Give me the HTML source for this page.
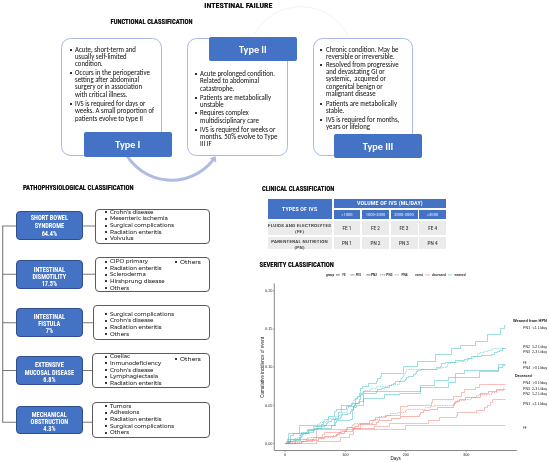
<!DOCTYPE html>
<html><head><meta charset="utf-8"><title>Intestinal failure</title><style>
*{margin:0;padding:0;box-sizing:border-box}
html,body{width:550px;height:462px;overflow:hidden;background:#fff}
body{position:relative;font-family:"Liberation Sans",sans-serif}
.abs{position:absolute}
.hd{position:absolute;font-family:"Roboto Condensed","Liberation Sans Narrow","Liberation Sans",sans-serif;font-weight:700;color:#111;white-space:nowrap;line-height:1.2;text-shadow:0 0.4px 0.4px rgba(0,0,0,0.35),0 -0.4px 0.4px rgba(0,0,0,0.25)}
.obox{position:absolute;border:1.2px solid #a9bae6;border-radius:9.5px;background:#fff}
.ft{position:absolute;font-family:Carlito,"Liberation Sans",sans-serif;font-size:7.5px;line-height:7.3px;color:#1a1a1a;white-space:nowrap;transform:scaleX(0.907);transform-origin:0 0;text-shadow:0 0.3px 0.3px rgba(0,0,0,0.15)}
.bul{position:absolute;width:2px;height:2px;background:#333}
.tbox{position:absolute;background:#4472c4;border-radius:2px;color:#fff;text-align:center;font-family:Carlito,"Liberation Sans",sans-serif;font-weight:700;font-size:10.2px}
.pbox{position:absolute;background:#4472c4;border:1px solid #2f4f8c;border-radius:4px}
.plab{position:absolute;text-align:center;color:#fff;font-family:"Roboto Condensed","Liberation Sans Narrow","Liberation Sans",sans-serif;font-weight:700;font-size:6.3px;line-height:7.0px;white-space:nowrap}
.wbox{position:absolute;border:1px solid #5a5a5a;border-radius:4px;background:#fff}
.pt{position:absolute;font-family:Montserrat,"Liberation Sans",sans-serif;font-weight:500;text-shadow:0 0.3px 0.3px rgba(0,0,0,0.12);font-size:5.55px;line-height:6.6px;color:#262626;white-space:nowrap}
.pb{position:absolute;width:2px;height:2px;background:#3a3a3a}
.tc{position:absolute;text-align:center;white-space:nowrap;font-family:Roboto,"Liberation Sans",sans-serif}
.hb{background:#4472c4;color:#fff;font-weight:700}
.hs{background:#4472c4;color:rgba(255,255,255,0.75);font-size:4px;font-weight:500}
.gl{background:#ebebeb;color:#333;font-size:4.4px;letter-spacing:0.3px;line-height:6.0px;font-weight:500;text-shadow:0 0.4px 0.3px rgba(0,0,0,0.2)}
.gv{background:#ebebeb;color:#3a3a3a;font-size:4.6px;font-weight:500;padding-top:1px}
.ax{font-family:Arimo,"Liberation Sans",sans-serif;font-size:3.8px;fill:#2a2a2a}
.axl{font-family:Arimo,"Liberation Sans",sans-serif;font-size:4.55px;fill:#1a1a1a}
.lg{font-family:Arimo,"Liberation Sans",sans-serif;font-size:3.5px;font-weight:700;fill:#222}
.lgb{font-family:Arimo,"Liberation Sans",sans-serif;font-size:3.5px;font-weight:700;fill:#111}
.rl{font-family:Arimo,"Liberation Sans",sans-serif;font-size:3.9px;fill:#222}
.rlb{font-family:Arimo,"Liberation Sans",sans-serif;font-size:3.9px;font-weight:700;fill:#111}
</style></head>
<body>
<svg class="abs" style="left:0;top:0" width="550" height="200" viewBox="0 0 550 200">
<path d="M254.2 34.5 A 53 53 0 0 1 348 35.5" fill="none" stroke="#f3f3f3" stroke-width="1"/>
</svg><div class="obox" style="left:61.2px;top:38.1px;width:101.0px;height:117.7px"></div><div class="obox" style="left:187.2px;top:37.9px;width:100.7px;height:117.7px"></div><div class="obox" style="left:313.0px;top:38.4px;width:99.6px;height:117.6px"></div><div class="bul" style="left:70px;top:49px"></div><div class="ft" style="left:74.60px;top:45.60px">Acute, short-term and<br>usually self-limited<br>condition.</div><div class="bul" style="left:70px;top:72px"></div><div class="ft" style="left:74.60px;top:68.80px">Occurs in the perioperative<br>setting after abdominal<br>surgery or in association<br>with critical illness.</div><div class="bul" style="left:70px;top:103px"></div><div class="ft" style="left:74.60px;top:100.00px">IVS is required for days or<br>weeks. A small proportion of<br>patients evolve to type II</div><div class="bul" style="left:195px;top:73px"></div><div class="ft" style="left:200.30px;top:70.00px">Acute prolonged condition.<br>Related to abdominal<br>catastrophe.</div><div class="bul" style="left:195px;top:97px"></div><div class="ft" style="left:200.30px;top:93.60px">Patients are metabolically<br>unstable</div><div class="bul" style="left:195px;top:112px"></div><div class="ft" style="left:200.30px;top:109.30px">Requires complex<br>multidisciplinary care</div><div class="bul" style="left:195px;top:129px"></div><div class="ft" style="left:200.30px;top:125.60px">IVS is required for weeks or<br>months. 50% evolve to Type<br>III IF</div><div class="bul" style="left:320px;top:49px"></div><div class="ft" style="left:325.70px;top:46.10px">Chronic condition. May be<br>reversible or irreversible.</div><div class="bul" style="left:320px;top:64px"></div><div class="ft" style="left:325.70px;top:60.70px">Resolved from progressive<br>and devastating GI or<br>systemic,&nbsp; acquired or<br>congenital benign or<br>malignant disease</div><div class="bul" style="left:320px;top:103px"></div><div class="ft" style="left:325.70px;top:100.00px">Patients are metabolically<br>stable.</div><div class="bul" style="left:320px;top:119px"></div><div class="ft" style="left:325.70px;top:115.90px">IVS is required for months,<br>years or lifelong</div><svg class="abs" style="left:0;top:0" width="550" height="200" viewBox="0 0 550 200">
<path d="M125.77 153.80 A 52.8 52.8 0 0 0 212.82 160.27" fill="none" stroke="#aebbe3" stroke-width="2.9"/>
<path d="M215.6 155.9 L209.5 158.5 L216.3 162.4 Z" fill="#aebbe3"/>
</svg><div class="tbox" style="left:84px;top:132px;width:87.5px;height:24.8px;line-height:26.6px">Type I</div><div class="tbox" style="left:209px;top:37.2px;width:87.7px;height:24.0px;line-height:25.8px">Type II</div><div class="tbox" style="left:334.1px;top:133.9px;width:87.9px;height:24.3px;line-height:26.1px">Type III</div><div class="hd" style="left:204.3px;top:1.4px;font-size:8px">INTESTINAL FAILURE</div><div class="hd" style="left:110.5px;top:18.8px;font-size:6.6px">FUNCTIONAL CLASSIFICATION</div><div class="hd" style="left:22.9px;top:183.7px;font-size:6.7px">PATHOPHYSIOLOGICAL CLASSIFICATION</div><div class="hd" style="left:261.9px;top:186.4px;font-size:6.6px">CLINICAL CLASSIFICATION</div><div class="hd" style="left:259.6px;top:260.5px;font-size:6.7px">SEVERITY CLASSIFICATION</div><svg class="abs" style="left:0;top:0" width="220" height="462" viewBox="0 0 220 462"><path d="M2.7 226.0 V422.3" stroke="#7a7a7a" stroke-width="1.1" fill="none"/><path d="M2.2 226.0 H16.5 M82.5 226.0 H95.2" stroke="#7a7a7a" stroke-width="1.1" fill="none"/><path d="M2.2 274.2 H16.5 M82.5 274.2 H95.2" stroke="#7a7a7a" stroke-width="1.1" fill="none"/><path d="M2.2 322.7 H16.5 M82.5 322.7 H93.4" stroke="#7a7a7a" stroke-width="1.1" fill="none"/><path d="M2.2 370.5 H16.5 M82.5 370.5 H92.7" stroke="#7a7a7a" stroke-width="1.1" fill="none"/><path d="M2.2 422.3 H16.5 M82.5 422.3 H92.7" stroke="#7a7a7a" stroke-width="1.1" fill="none"/></svg><div class="pbox" style="left:16px;top:211.2px;width:66.7px;height:28.4px"></div><div class="plab" style="left:16px;top:215.05px;width:66.7px;letter-spacing:0px">SHORT BOWEL</div><div class="plab" style="left:16px;top:223.00px;width:66.7px;letter-spacing:0px">SYNDROME</div><div class="plab" style="left:16px;top:230.65px;width:66.7px;letter-spacing:0px">64.4%</div><div class="wbox" style="left:94.7px;top:208.6px;width:115.1px;height:35.1px"></div><div class="pb" style="left:105px;top:211px"></div><div class="pb" style="left:105px;top:218px"></div><div class="pb" style="left:105px;top:225px"></div><div class="pb" style="left:105px;top:231px"></div><div class="pb" style="left:105px;top:238px"></div><div class="pt" style="left:109.9px;top:208.90px">Crohn's disease<br>Mesenteric ischemia<br>Surgical complications<br>Radiation enteritis<br>Volvulus</div><div class="pbox" style="left:16px;top:260.0px;width:66.7px;height:28.5px"></div><div class="plab" style="left:16px;top:266.50px;width:66.7px;letter-spacing:0px">INTESTINAL</div><div class="plab" style="left:16px;top:273.80px;width:66.7px;letter-spacing:0px">DISMOTILITY</div><div class="plab" style="left:16px;top:280.80px;width:66.7px;letter-spacing:0px">17.5%</div><div class="wbox" style="left:94.7px;top:256.9px;width:115.1px;height:35.2px"></div><div class="pb" style="left:105px;top:261px"></div><div class="pb" style="left:105px;top:267px"></div><div class="pb" style="left:105px;top:274px"></div><div class="pb" style="left:105px;top:280px"></div><div class="pb" style="left:105px;top:287px"></div><div class="pt" style="left:109.9px;top:258.20px">CIPO primary<br>Radiation enteritis<br>Scleroderma<br>Hirshprung disease<br>Others</div><div class="pb" style="left:175px;top:261px"></div><div class="pt" style="left:180.0px;top:258.60px;font-size:6px">Others</div><div class="pbox" style="left:16px;top:308.2px;width:66.7px;height:28.7px"></div><div class="plab" style="left:16px;top:314.00px;width:66.7px;letter-spacing:0px">INTESTINAL</div><div class="plab" style="left:16px;top:321.00px;width:66.7px;letter-spacing:0px">FISTULA</div><div class="plab" style="left:16px;top:328.00px;width:66.7px;letter-spacing:0px">7%</div><div class="wbox" style="left:92.9px;top:304.9px;width:116.9px;height:34.9px"></div><div class="pb" style="left:105px;top:313px"></div><div class="pb" style="left:105px;top:320px"></div><div class="pb" style="left:105px;top:327px"></div><div class="pb" style="left:105px;top:333px"></div><div class="pt" style="left:109.9px;top:310.90px">Surgical complications<br>Crohn's disease<br>Radiation enteritis<br>Others</div><div class="pbox" style="left:16px;top:356.3px;width:66.7px;height:28.3px"></div><div class="plab" style="left:16px;top:362.40px;width:66.7px;letter-spacing:0px">EXTENSIVE</div><div class="plab" style="left:16px;top:369.50px;width:66.7px;letter-spacing:0px">MUCOSAL DISEASE</div><div class="plab" style="left:16px;top:376.65px;width:66.7px;letter-spacing:0px">6.8%</div><div class="wbox" style="left:92.2px;top:352.5px;width:117.6px;height:35.0px"></div><div class="pb" style="left:105px;top:356px"></div><div class="pb" style="left:105px;top:362px"></div><div class="pb" style="left:105px;top:369px"></div><div class="pb" style="left:105px;top:376px"></div><div class="pb" style="left:105px;top:382px"></div><div class="pt" style="left:109.9px;top:353.40px">Coeliac<br>Inmunodeficiency<br>Crohn's disease<br>Lymphagiectasia<br>Radiation enteritis</div><div class="pb" style="left:175px;top:358px"></div><div class="pt" style="left:180.0px;top:355.60px;font-size:6px">Others</div><div class="pbox" style="left:16px;top:405.7px;width:66.7px;height:28.5px"></div><div class="plab" style="left:16px;top:411.65px;width:66.7px;letter-spacing:0px">MECHANICAL</div><div class="plab" style="left:16px;top:419.10px;width:66.7px;letter-spacing:0px">OBSTRUCTION</div><div class="plab" style="left:16px;top:426.25px;width:66.7px;letter-spacing:0px">4.3%</div><div class="wbox" style="left:92.2px;top:402.0px;width:117.6px;height:35.6px"></div><div class="pb" style="left:105px;top:405px"></div><div class="pb" style="left:105px;top:412px"></div><div class="pb" style="left:105px;top:418px"></div><div class="pb" style="left:105px;top:425px"></div><div class="pb" style="left:105px;top:432px"></div><div class="pt" style="left:109.9px;top:402.80px">Tumors<br>Adhesions<br>Radiation enteritis<br>Surgical complications<br>Others</div><div class="tc hb" style="left:267.6px;top:198.6px;width:64.1px;height:20.0px;line-height:20px;font-size:5.2px;letter-spacing:0.2px">TYPES OF IVS</div><div class="tc hb" style="left:333.6px;top:198.6px;width:112.6px;height:9.2px;line-height:9.4px;font-size:5.2px;letter-spacing:0.2px">VOLUME OF IVS (ML/DAY)</div><div class="tc hs" style="left:333.6px;top:209.5px;width:26.7px;height:9.2px;line-height:9.3px">&lt;1000</div><div class="tc hs" style="left:362.0px;top:209.5px;width:26.9px;height:9.2px;line-height:9.3px">1000-2000</div><div class="tc hs" style="left:390.5px;top:209.5px;width:27.0px;height:9.2px;line-height:9.3px">2000-3000</div><div class="tc hs" style="left:419.0px;top:209.5px;width:27.2px;height:9.2px;line-height:9.3px">&gt;3000</div><div class="tc gl" style="left:267.6px;top:220.9px;width:64.1px;height:13.7px"><div style="padding-top:2.5px">FLUIDS AND ELECTROLYTES<br>(FE)</div></div><div class="tc gv" style="left:333.6px;top:220.9px;width:26.7px;height:13.7px;line-height:13.7px">FE 1</div><div class="tc gv" style="left:362.0px;top:220.9px;width:26.9px;height:13.7px;line-height:13.7px">FE 2</div><div class="tc gv" style="left:390.5px;top:220.9px;width:27.0px;height:13.7px;line-height:13.7px">FE 3</div><div class="tc gv" style="left:419.0px;top:220.9px;width:27.2px;height:13.7px;line-height:13.7px">FE 4</div><div class="tc gl" style="left:267.6px;top:236.9px;width:64.1px;height:12.6px"><div style="padding-top:2.5px">PARENTERAL NUTRITION<br>(PN)</div></div><div class="tc gv" style="left:333.6px;top:236.9px;width:26.7px;height:12.6px;line-height:12.6px">PN 1</div><div class="tc gv" style="left:362.0px;top:236.9px;width:26.9px;height:12.6px;line-height:12.6px">PN 2</div><div class="tc gv" style="left:390.5px;top:236.9px;width:27.0px;height:12.6px;line-height:12.6px">PN 3</div><div class="tc gv" style="left:419.0px;top:236.9px;width:27.2px;height:12.6px;line-height:12.6px">PN 4</div><svg class="abs" style="left:0;top:0" width="550" height="462" viewBox="0 0 550 462"><path d="M285.5 443.5H287.5V439.5H299.5V437.5H300.5V434.5H301.5V432.5H307.5V429.5H313.5V426.5H321.5V424.5H323.5V421.5H324.5V419.5H328.5V416.5H334.5V414.5H334.5V411.5H336.5V409.5H346.5V406.5H354.5V404.5H355.5V401.5H355.5V398.5H357.5V396.5H359.5V393.5H360.5V391.5H360.5V388.5H362.5V386.5H368.5V383.5H376.5V381.5H377.5V378.5H380.5V376.5H381.5V373.5H403.5V371.5H403.5V368.5H403.5V366.5H417.5V363.5H417.5V361.5H435.5V358.5H435.5V356.5H435.5V354.5H451.5V351.5H451.5V348.5H460.5V345.5H475.5V341.5H487.5V339.5H487.5V336.5H487.5V334.5H500.5V331.5H500.5V328.5H504.5V325.5H505.5" fill="none" stroke="#2bb5ba" stroke-width="1" stroke-opacity="0.45"/><path d="M285.5 443.5H289.5V442.5H290.5V440.5H291.5V439.5H294.5V438.5H297.5V437.5H299.5V435.5H301.5V434.5H305.5V433.5H306.5V432.5H308.5V430.5H311.5V429.5H315.5V428.5H316.5V427.5H317.5V425.5H317.5V424.5H319.5V423.5H320.5V422.5H325.5V421.5H327.5V420.5H328.5V418.5H335.5V417.5H335.5V416.5H339.5V415.5H340.5V414.5H342.5V412.5H346.5V411.5H347.5V410.5H347.5V409.5H347.5V408.5H348.5V406.5H348.5V405.5H351.5V404.5H352.5V403.5H352.5V402.5H353.5V400.5H354.5V399.5H356.5V398.5H356.5V397.5H358.5V396.5H360.5V395.5H361.5V393.5H362.5V392.5H363.5V391.5H364.5V390.5H370.5V389.5H372.5V388.5H376.5V386.5H388.5V385.5H393.5V384.5H399.5V383.5H399.5V382.5H399.5V381.5H400.5V379.5H401.5V378.5H402.5V377.5H402.5V376.5H403.5V374.5H404.5V373.5H405.5V372.5H405.5V371.5H406.5V369.5H429.5V369.5H437.5V368.5H441.5V367.5H446.5V366.5H447.5V364.5H447.5V363.5H450.5V362.5H458.5V361.5H467.5V359.5H468.5V358.5H473.5V357.5H474.5V356.5H477.5V355.5H477.5V353.5H479.5V352.5H484.5V351.5H487.5V350.5H491.5V349.5H493.5V348.5H505.5" fill="none" stroke="#2bb5ba" stroke-width="1" stroke-opacity="0.45" stroke-dasharray="1.4 1.0"/><path d="M285.5 443.5H288.5V441.5H293.5V440.5H300.5V438.5H300.5V437.5H301.5V436.5H302.5V434.5H302.5V433.5H309.5V432.5H313.5V430.5H314.5V429.5H317.5V428.5H321.5V426.5H324.5V425.5H326.5V423.5H327.5V422.5H328.5V421.5H331.5V419.5H335.5V418.5H340.5V417.5H341.5V415.5H342.5V414.5H347.5V413.5H350.5V411.5H351.5V410.5H351.5V409.5H353.5V407.5H353.5V406.5H354.5V405.5H355.5V403.5H358.5V402.5H359.5V401.5H359.5V399.5H360.5V398.5H360.5V397.5H360.5V395.5H360.5V394.5H362.5V393.5H376.5V391.5H377.5V389.5H381.5V388.5H384.5V387.5H389.5V385.5H391.5V384.5H393.5V383.5H395.5V381.5H404.5V380.5H405.5V379.5H406.5V377.5H408.5V376.5H413.5V374.5H415.5V373.5H416.5V371.5H417.5V370.5H420.5V369.5H436.5V367.5H440.5V366.5H441.5V364.5H441.5V363.5H445.5V362.5H455.5V360.5H464.5V359.5H467.5V358.5H471.5V356.5H481.5V355.5H491.5V354.5H494.5V352.5H497.5V351.5H499.5V350.5H502.5V348.5H505.5" fill="none" stroke="#2bb5ba" stroke-width="1" stroke-opacity="0.45"/><path d="M285.5 443.5H288.5V440.5H288.5V438.5H288.5V435.5H288.5V433.5H299.5V430.5H299.5V427.5H299.5V425.5H334.5V422.5H334.5V419.5H338.5V417.5H338.5V415.5H338.5V412.5H341.5V410.5H341.5V407.5H341.5V405.5H351.5V403.5H359.5V401.5H363.5V398.5H363.5V396.5H363.5V393.5H363.5V391.5H420.5V388.5H420.5V385.5H434.5V383.5H434.5V380.5H448.5V377.5H455.5V373.5H464.5V370.5H498.5V367.5H498.5V364.5H505.5" fill="none" stroke="#2bb5ba" stroke-width="1" stroke-opacity="0.45"/><path d="M285.5 443.5H289.5V441.5H290.5V438.5H290.5V435.5H293.5V433.5H308.5V430.5H314.5V428.5H331.5V425.5H335.5V422.5H336.5V420.5H350.5V419.5H352.5V417.5H352.5V415.5H352.5V412.5H352.5V410.5H353.5V407.5H356.5V405.5H363.5V401.5H363.5V398.5H384.5V394.5H399.5V393.5H420.5V390.5H420.5V387.5H448.5V385.5H448.5V382.5H455.5V379.5H455.5V377.5H479.5V374.5H479.5V371.5H498.5V367.5H502.5V365.5H505.5" fill="none" stroke="#2bb5ba" stroke-width="1" stroke-opacity="0.45"/><path d="M285.5 443.5H286.5V441.5H312.5V439.5H313.5V437.5H322.5V434.5H324.5V432.5H341.5V431.5H352.5V428.5H360.5V425.5H360.5V423.5H369.5V420.5H375.5V417.5H385.5V415.5H400.5V412.5H400.5V409.5H400.5V406.5H407.5V405.5H431.5V402.5H432.5V399.5H453.5V396.5H461.5V392.5H464.5V389.5H475.5V387.5H479.5V384.5H505.5" fill="none" stroke="#f5655b" stroke-width="1" stroke-opacity="0.42"/><path d="M285.5 443.5H287.5V442.5H302.5V441.5H303.5V439.5H306.5V438.5H308.5V437.5H333.5V435.5H337.5V434.5H339.5V432.5H340.5V430.5H345.5V429.5H346.5V427.5H351.5V426.5H352.5V424.5H354.5V423.5H372.5V421.5H373.5V419.5H379.5V418.5H379.5V416.5H387.5V415.5H390.5V413.5H398.5V412.5H405.5V410.5H406.5V409.5H425.5V407.5H430.5V406.5H434.5V405.5H453.5V403.5H454.5V402.5H457.5V400.5H465.5V399.5H471.5V397.5H476.5V395.5H478.5V394.5H491.5V392.5H496.5V390.5H503.5V389.5H503.5V387.5H505.5" fill="none" stroke="#f5655b" stroke-width="1" stroke-opacity="0.5" stroke-dasharray="1.4 1.0"/><path d="M285.5 443.5H301.5V441.5H306.5V440.5H318.5V438.5H324.5V436.5H336.5V434.5H338.5V433.5H344.5V431.5H346.5V429.5H347.5V427.5H355.5V426.5H358.5V424.5H376.5V422.5H378.5V420.5H391.5V418.5H400.5V416.5H419.5V414.5H420.5V412.5H423.5V410.5H429.5V409.5H437.5V407.5H453.5V405.5H454.5V403.5H455.5V401.5H459.5V399.5H465.5V397.5H480.5V395.5H480.5V393.5H488.5V391.5H496.5V389.5H505.5" fill="none" stroke="#f5655b" stroke-width="1" stroke-opacity="0.48"/><path d="M285.5 443.5H316.5V441.5H340.5V437.5H349.5V434.5H353.5V431.5H353.5V428.5H374.5V426.5H389.5V423.5H428.5V420.5H439.5V417.5H456.5V415.5H457.5V412.5H476.5V410.5H484.5V407.5H487.5V405.5H490.5V402.5H492.5V399.5H505.5" fill="none" stroke="#f5655b" stroke-width="1" stroke-opacity="0.42"/><path d="M285.5 443.5H295.5V439.5H316.5V437.5H316.5V434.5H316.5V432.5H316.5V429.5H405.5V427.5H405.5V425.5H505.5" fill="none" stroke="#f5655b" stroke-width="1" stroke-opacity="0.42"/><path d="M274.3 283.4 V450.5 H516.9" fill="none" stroke="#555" stroke-width="0.7"/><path d="M272.8 443.30 H274.3" stroke="#555" stroke-width="0.5"/><text x="272.4" y="444.60" text-anchor="end" class="ax">0.00</text><path d="M272.8 405.20 H274.3" stroke="#555" stroke-width="0.5"/><text x="272.4" y="406.50" text-anchor="end" class="ax">0.05</text><path d="M272.8 367.10 H274.3" stroke="#555" stroke-width="0.5"/><text x="272.4" y="368.40" text-anchor="end" class="ax">0.10</text><path d="M272.8 329.00 H274.3" stroke="#555" stroke-width="0.5"/><text x="272.4" y="330.30" text-anchor="end" class="ax">0.15</text><path d="M272.8 290.90 H274.3" stroke="#555" stroke-width="0.5"/><text x="272.4" y="292.20" text-anchor="end" class="ax">0.20</text><path d="M285.00 450.5 V452" stroke="#555" stroke-width="0.5"/><text x="285.00" y="455.6" text-anchor="middle" class="ax">0</text><path d="M345.40 450.5 V452" stroke="#555" stroke-width="0.5"/><text x="345.40" y="455.6" text-anchor="middle" class="ax">100</text><path d="M405.80 450.5 V452" stroke="#555" stroke-width="0.5"/><text x="405.80" y="455.6" text-anchor="middle" class="ax">200</text><path d="M466.20 450.5 V452" stroke="#555" stroke-width="0.5"/><text x="466.20" y="455.6" text-anchor="middle" class="ax">300</text><text x="395.6" y="460.4" text-anchor="middle" class="axl">Days</text><text transform="translate(263.9 367.4) rotate(-90)" text-anchor="middle" class="axl">Cumulative incidence of event</text><text x="325.9" y="276.2" class="lgb" textLength="8.3" lengthAdjust="spacingAndGlyphs">group</text><path d="M336.0 274.9 H339.7" stroke="#555" stroke-width="0.9"/><text x="342.6" y="276.2" class="lg" textLength="3.0" lengthAdjust="spacingAndGlyphs">FE</text><path d="M350.5 274.9 H354.5" stroke="#888" stroke-width="0.9"/><text x="355.7" y="276.2" class="lg" textLength="5.3" lengthAdjust="spacingAndGlyphs">PN1</text><path d="M366.5 274.9 H370.6" stroke="#666" stroke-width="0.9"/><text x="371.0" y="276.2" class="lg" textLength="6.0" lengthAdjust="spacingAndGlyphs">PN2</text><path d="M380.0 274.9 H386.0" stroke="#666" stroke-width="0.9" stroke-dasharray="1.2 0.9"/><text x="386.3" y="276.2" class="lg" textLength="6.1" lengthAdjust="spacingAndGlyphs">PN3</text><path d="M394.5 274.9 H398.9" stroke="#bbb" stroke-width="0.9"/><text x="401.4" y="276.2" class="lg" textLength="6.2" lengthAdjust="spacingAndGlyphs">PN4</text><text x="415.3" y="276.2" class="lgb" textLength="7.3" lengthAdjust="spacingAndGlyphs">event</text><path d="M425 274.9 H430" stroke="#f5655b" stroke-width="0.9" stroke-opacity="0.6"/><text x="432.1" y="276.2" class="lg" textLength="13.8" lengthAdjust="spacingAndGlyphs">deceased</text><path d="M448 274.9 H452.4" stroke="#2bb5ba" stroke-width="0.9" stroke-opacity="0.6"/><text x="454.6" y="276.2" class="lg" textLength="10.9" lengthAdjust="spacingAndGlyphs">weaned</text><text x="513" y="322.3" class="rlb" textLength="33.8" lengthAdjust="spacingAndGlyphs">Weaned from HPN</text><text x="523.1" y="328.8" class="rl" textLength="24.0" lengthAdjust="spacingAndGlyphs">PN1&#160;&#160;≤1 L/day</text><text x="523.1" y="347.9" class="rl" textLength="24.0" lengthAdjust="spacingAndGlyphs">PN2&#160;&#160;1-2 L/day</text><text x="523.1" y="353.1" class="rl" textLength="24.0" lengthAdjust="spacingAndGlyphs">PN3&#160;&#160;2-3 L/day</text><text x="523.1" y="363.6" class="rl" textLength="3.4" lengthAdjust="spacingAndGlyphs">FE</text><text x="523.1" y="369.4" class="rl" textLength="24.0" lengthAdjust="spacingAndGlyphs">PN4&#160;&#160;&gt;3 L/day</text><text x="514.9" y="377.3" class="rlb" textLength="16.9" lengthAdjust="spacingAndGlyphs">Deceased</text><text x="523.1" y="384.1" class="rl" textLength="24.0" lengthAdjust="spacingAndGlyphs">PN4&#160;&#160;&gt;3 L/day</text><text x="523.1" y="389.5" class="rl" textLength="24.0" lengthAdjust="spacingAndGlyphs">PN3&#160;&#160;2-3 L/day</text><text x="523.1" y="394.8" class="rl" textLength="24.0" lengthAdjust="spacingAndGlyphs">PN2&#160;&#160;1-2 L/day</text><text x="523.1" y="404.8" class="rl" textLength="24.0" lengthAdjust="spacingAndGlyphs">PN1&#160;&#160;≤1 L/day</text><text x="523.1" y="429.0" class="rl" textLength="3.4" lengthAdjust="spacingAndGlyphs">FE</text></svg>
</body></html>
